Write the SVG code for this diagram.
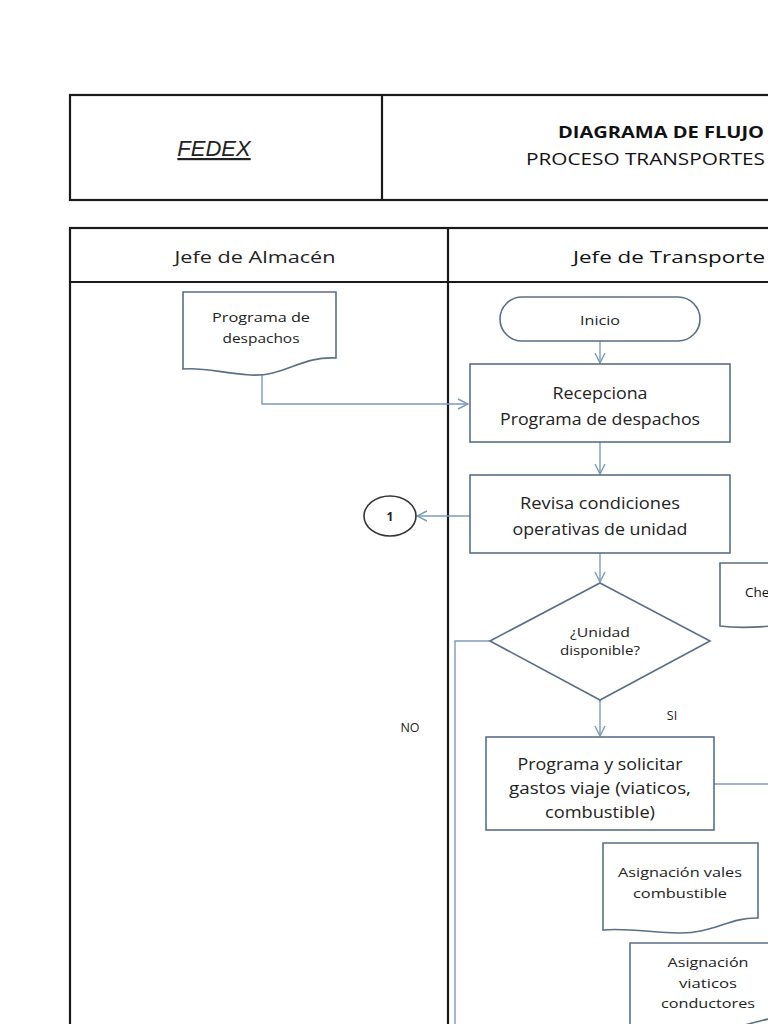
<svg xmlns="http://www.w3.org/2000/svg" width="768" height="1024" viewBox="0 0 768 1024">
<defs>
<style>
.frame{fill:none;stroke:#1a1a1a;stroke-width:2.2}
.shape{fill:#fff;stroke:#5a6f86;stroke-width:1.6}
.conn{fill:none;stroke:#7b9bbb;stroke-width:1.4}
.t{font-family:"Open Sans","Noto Sans","DejaVu Sans",sans-serif;fill:#222;text-anchor:middle}
.hd{font-family:"Open Sans","Noto Sans","DejaVu Sans",sans-serif;fill:#111}
</style>
<marker id="arr" viewBox="0 0 12 12" refX="11" refY="6" markerWidth="12" markerHeight="12" markerUnits="userSpaceOnUse" orient="auto">
<path d="M1,1 L11,6 L1,11" fill="none" stroke="#7b9bbb" stroke-width="1.4"/>
</marker>
</defs>
<rect width="768" height="1024" fill="#fff"/>

<g id="header">
<rect class="frame" x="70" y="95" width="710" height="105"/>
<line class="frame" x1="382" y1="95" x2="382" y2="200"/>
<text x="214" y="156" font-family="Liberation Sans,Arial,sans-serif" font-style="italic" font-size="22" fill="#222" text-anchor="middle" text-decoration="underline">FEDEX</text>
<text class="hd" x="558" y="138" font-size="16" font-weight="bold" textLength="206" lengthAdjust="spacingAndGlyphs">DIAGRAMA DE FLUJO</text>
<text class="hd" x="526" y="165" font-size="16" textLength="239" lengthAdjust="spacingAndGlyphs">PROCESO TRANSPORTES</text>
</g>

<g id="lanes">
<rect class="frame" x="70" y="228" width="710" height="810"/>
<line class="frame" x1="70" y1="282" x2="780" y2="282"/>
<line class="frame" x1="448" y1="228" x2="448" y2="1024"/>
<text class="t" x="255" y="263" font-size="17" textLength="161" lengthAdjust="spacingAndGlyphs">Jefe de Almacén</text>
<text class="hd" x="573" y="263" font-size="17" textLength="192" lengthAdjust="spacingAndGlyphs">Jefe de Transporte</text>
</g>

<g id="connectors">
<path class="conn" d="M262,372 V404 H468" marker-end="url(#arr)"/>
<path class="conn" d="M600,341 V363" marker-end="url(#arr)"/>
<path class="conn" d="M600,442 V474" marker-end="url(#arr)"/>
<path class="conn" d="M470,516 H417" marker-end="url(#arr)"/>
<path class="conn" d="M600,553 V582" marker-end="url(#arr)"/>
<path class="conn" d="M490,641 H455 V1024"/>
<path class="conn" d="M600,700 V736" marker-end="url(#arr)"/>
<path class="conn" d="M714,784 H768"/>
</g>

<g id="doc-programa">
<path class="shape" d="M183,292 H336 V358 C300,356 285,377 250,375 C220,373 205,367 183,369 Z"/>
<text class="t" x="261" y="322" font-size="13.5" textLength="98" lengthAdjust="spacingAndGlyphs">Programa de</text>
<text class="t" x="261" y="343" font-size="13.5" textLength="77" lengthAdjust="spacingAndGlyphs">despachos</text>
</g>

<g id="inicio">
<rect class="shape" x="500" y="297" width="200" height="44" rx="22"/>
<text class="t" x="600" y="325" font-size="13.5" textLength="40" lengthAdjust="spacingAndGlyphs">Inicio</text>
</g>

<g id="recepciona">
<rect class="shape" x="470" y="364" width="260" height="78"/>
<text class="t" x="600" y="399" font-size="16.5" textLength="95" lengthAdjust="spacingAndGlyphs">Recepciona</text>
<text class="t" x="600" y="425" font-size="16.5" textLength="200" lengthAdjust="spacingAndGlyphs">Programa de despachos</text>
</g>

<g id="revisa">
<rect class="shape" x="470" y="475" width="260" height="78"/>
<text class="t" x="600" y="509" font-size="16.5" textLength="160" lengthAdjust="spacingAndGlyphs">Revisa condiciones</text>
<text class="t" x="600" y="535" font-size="16.5" textLength="175" lengthAdjust="spacingAndGlyphs">operativas de unidad</text>
</g>

<g id="connector-1">
<ellipse cx="390" cy="516" rx="26" ry="20" fill="#fff" stroke="#333" stroke-width="1.6"/>
<text class="t" x="390" y="521" font-size="12" font-weight="bold">1</text>
</g>

<g id="decision">
<path class="shape" d="M600,583 L710,641 L600,700 L490,641 Z"/>
<text class="t" x="600" y="637" font-size="12.5" textLength="60" lengthAdjust="spacingAndGlyphs">¿Unidad</text>
<text class="t" x="600" y="655" font-size="12.5" textLength="80" lengthAdjust="spacingAndGlyphs">disponible?</text>
</g>

<g id="doc-check">
<path class="shape" d="M720,563 H790 V625 C770,625 750,630 720,626 Z"/>
<text class="hd" x="745" y="597" font-size="13.5">Che</text>
</g>

<g id="labels">
<text class="t" x="672" y="720" font-size="12.5">SI</text>
<text class="t" x="410" y="732" font-size="12.5">NO</text>
</g>

<g id="programa-solicitar">
<rect class="shape" x="486" y="737" width="228" height="93"/>
<text class="t" x="600" y="770" font-size="16.5" textLength="165" lengthAdjust="spacingAndGlyphs">Programa y solicitar</text>
<text class="t" x="600" y="794" font-size="16.5" textLength="182" lengthAdjust="spacingAndGlyphs">gastos viaje (viaticos,</text>
<text class="t" x="600" y="818" font-size="16.5" textLength="110" lengthAdjust="spacingAndGlyphs">combustible)</text>
</g>

<g id="doc-vales">
<path class="shape" d="M603,843 H758 V918 C730,917 712,934 678,933 C650,932 625,928 603,930 Z"/>
<text class="t" x="680" y="877" font-size="13.5" textLength="124" lengthAdjust="spacingAndGlyphs">Asignación vales</text>
<text class="t" x="680" y="898" font-size="13.5" textLength="94" lengthAdjust="spacingAndGlyphs">combustible</text>
</g>

<g id="doc-viaticos">
<path class="shape" d="M630,943 H790 V1018 C770,1016 760,1022 740,1026 L630,1030 Z"/>
<text class="t" x="708" y="967" font-size="13.5" textLength="81" lengthAdjust="spacingAndGlyphs">Asignación</text>
<text class="t" x="708" y="988" font-size="13.5" textLength="58" lengthAdjust="spacingAndGlyphs">viaticos</text>
<text class="t" x="708" y="1008" font-size="13.5" textLength="94" lengthAdjust="spacingAndGlyphs">conductores</text>
</g>
</svg>
